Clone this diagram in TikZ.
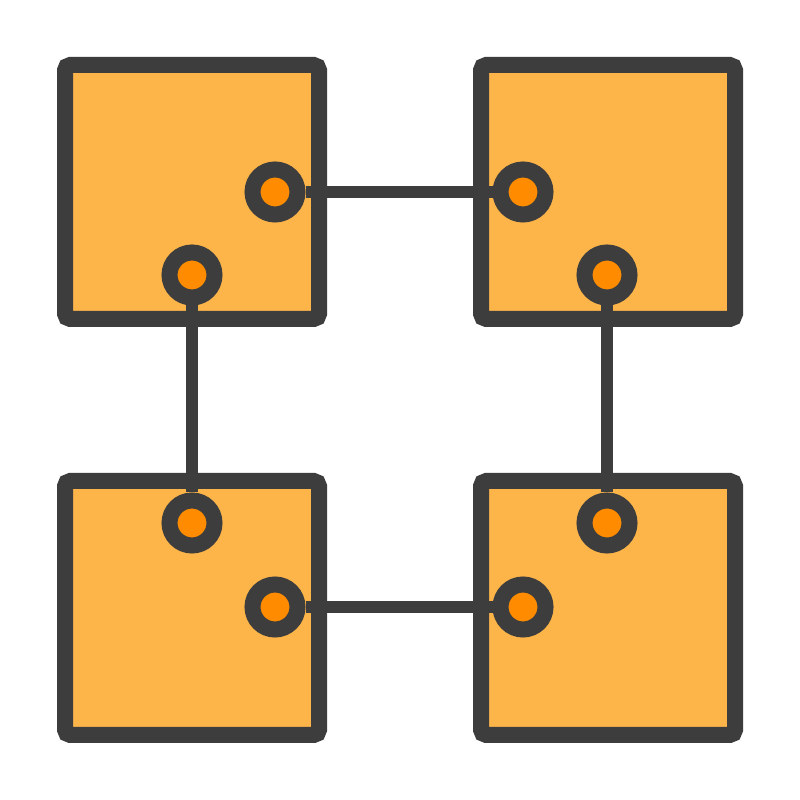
\documentclass[tikz,border=0pt]{standalone}
\usepackage{tikz}
\usetikzlibrary{positioning}

\definecolor{boxfill}{HTML}{FDB54A}
\definecolor{darkline}{HTML}{3D3D3D}
\definecolor{portfill}{HTML}{FF8C00}

\begin{document}
\begin{tikzpicture}[
    block/.style={draw=darkline, fill=boxfill, line width=0.16cm, rounded corners=1.5pt,
                  minimum size=2.54cm, inner sep=0pt, outer sep=0pt},
    port/.style={circle, draw=darkline, fill=portfill, line width=0.16cm,
                 minimum size=0.45cm, inner sep=0pt},
    link/.style={darkline, line width=0.12cm}
]

\fill[white] (0,0) rectangle (8,8);
\useasboundingbox (0,0) rectangle (8,8);

% four blocks
\node[block] (blkTL) at (1.92,6.08) {};
\node[block] (blkTR) at (6.08,6.08) {};
\node[block] (blkBL) at (1.92,1.92) {};
\node[block] (blkBR) at (6.08,1.92) {};

% ports
\node[port] (pTLr) at (2.75,6.08) {};
\node[port] (pTLb) at (1.92,5.25) {};
\node[port] (pTRl) at (5.23,6.08) {};
\node[port] (pTRb) at (6.07,5.25) {};
\node[port] (pBLt) at (1.92,2.77) {};
\node[port] (pBLr) at (2.75,1.93) {};
\node[port] (pBRt) at (6.07,2.77) {};
\node[port] (pBRl) at (5.23,1.93) {};

% links
\draw[link] (pTLr) -- (pTRl);
\draw[link] (pTLb) -- (pBLt);
\draw[link] (pTRb) -- (pBRt);
\draw[link] (pBLr) -- (pBRl);

\end{tikzpicture}
\end{document}
